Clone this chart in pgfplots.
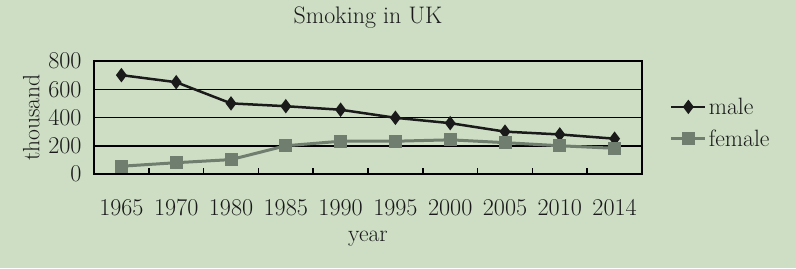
\documentclass[border=0pt]{standalone}
\usepackage{fontspec}
\usepackage{pgfplots}
\pgfplotsset{compat=1.18}
\definecolor{bgc}{RGB}{205,222,196}
\definecolor{fem}{RGB}{112,126,112}
\definecolor{mal}{RGB}{26,26,26}
\begin{document}
\begin{tikzpicture}[x=1bp,y=1bp]
\fill[bgc] (0,0) rectangle (796,268);
\useasboundingbox (0,0) rectangle (796,268);
\begin{axis}[
  at={(94bp,94bp)}, anchor=south west,
  scale only axis, width=548bp, height=113bp,
  xmin=-0.5, xmax=9.5, ymin=0, ymax=800,
  xtick={0,...,9},
  xticklabels={1965,1970,1980,1985,1990,1995,2000,2005,2010,2014},
  minor xtick={0.5,1.5,...,8.5},
  ytick={0,200,400,600,800},
  /pgf/number format/assume math mode=true,
  tick pos=left,
  major tick length=0pt,
  minor tick length=6bp,
  tick align=inside,
  minor tick style={black, line width=1.5bp},
  ymajorgrids,
  major grid style={black, line width=1.5bp},
  axis line style={black, line width=2bp},
  ticklabel style={font=\fontsize{24.2}{26}\selectfont, color=mal},
  xticklabel style={yshift=-22bp},
  yticklabel style={xshift=-9bp},
  xlabel={year}, ylabel={thousand},
  label style={font=\fontsize{23.7}{26}\selectfont, color=mal},
  xlabel style={yshift=-8bp},
  ylabel style={yshift=2bp},
  title={Smoking in UK},
  title style={font=\fontsize{24}{26}\selectfont, yshift=23bp, color=mal},
  legend style={at={(1.045,0.71)}, anchor=north west, draw=none, fill=none,
    font=\fontsize{23.7}{26}\selectfont, row sep=10bp, text=mal,
    /tikz/every even column/.append style={column sep=0pt}},
  legend cell align=left,
  legend image code/.code={
    \draw[#1, mark repeat=2, mark phase=2] plot coordinates {(0bp,0bp) (17bp,0bp) (34bp,0bp)};},
  clip=false,
]
\addplot[mal, line width=2.5bp, mark=diamond*, mark size=5.2bp, mark options={solid, fill=mal}]
  coordinates {(0,700) (1,650) (2,500) (3,480) (4,455) (5,398) (6,360) (7,300) (8,280) (9,250)};
\addplot[fem, line width=3bp, mark=square*, mark size=5bp, mark options={solid, fill=fem}]
  coordinates {(0,55) (1,80) (2,102) (3,200) (4,232) (5,232) (6,242) (7,222) (8,200) (9,182)};
\legend{male,female}
\end{axis}
\end{tikzpicture}
\end{document}
